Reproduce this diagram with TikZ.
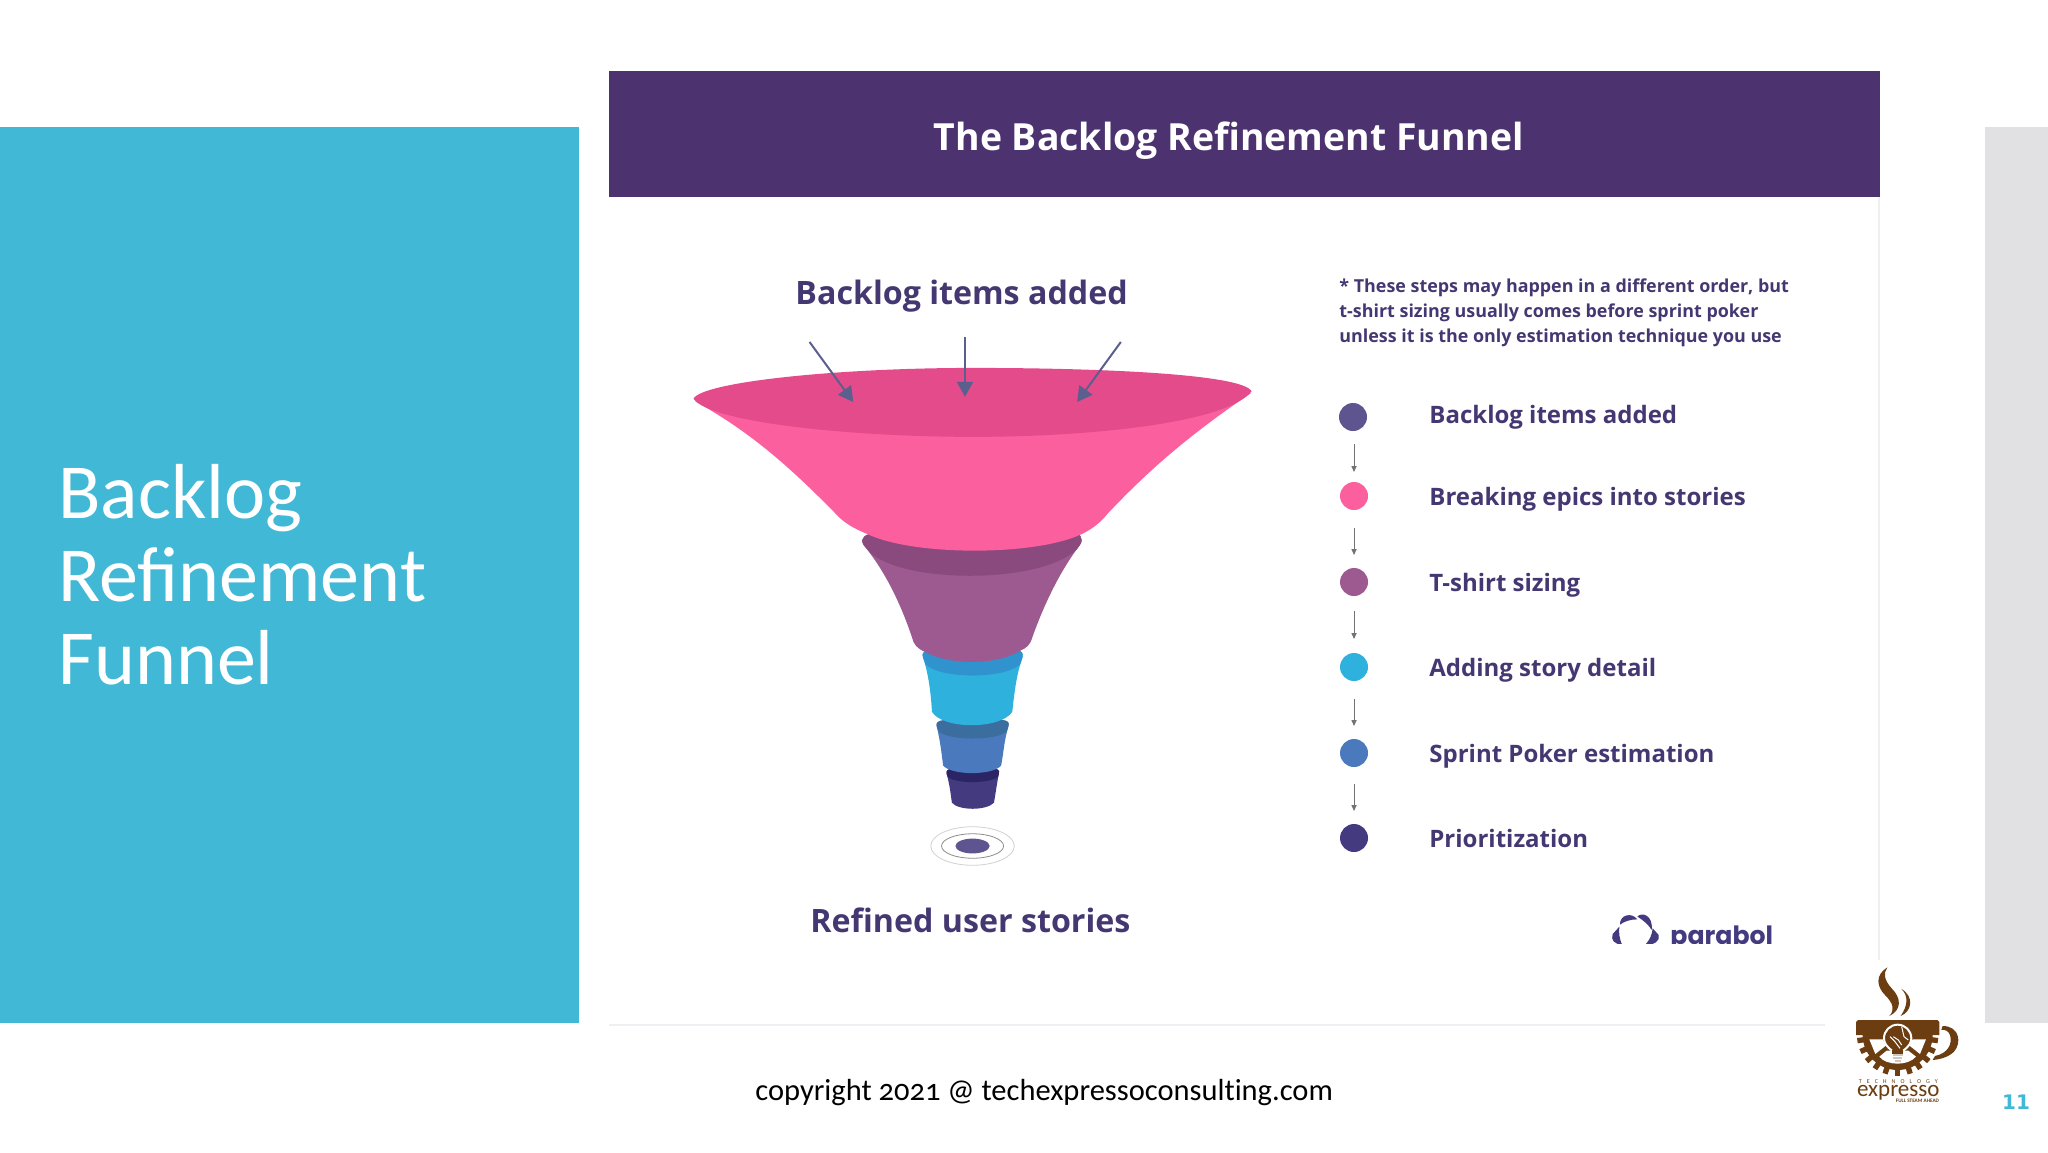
\documentclass[tikz,border=0pt]{standalone}
\usepackage{fontspec}
\usetikzlibrary{arrows.meta}
\newfontfamily\headf{Open Sans}
\newfontfamily\slidef{Carlito}[Numbers=OldStyle]
\newfontfamily\numf{DejaVu Sans}
\newfontfamily\popf{Poppins}
\definecolor{teal1}{HTML}{41B8D5}
\definecolor{hdr}{HTML}{4C326F}
\definecolor{ink}{HTML}{453872}
\definecolor{gray1}{HTML}{E1E1E4}
\definecolor{rule1}{HTML}{EFEEF3}
\definecolor{pinkA}{HTML}{FB5F9E}
\definecolor{pinkB}{HTML}{E44B8B}
\definecolor{purpA}{HTML}{9C5A90}
\definecolor{purpB}{HTML}{8A4A7E}
\definecolor{cyanA}{HTML}{2FB1DE}
\definecolor{cyanB}{HTML}{3193CE}
\definecolor{blueA}{HTML}{4A79BE}
\definecolor{blueB}{HTML}{3B6D9E}
\definecolor{navyA}{HTML}{433A80}
\definecolor{navyB}{HTML}{2B2566}
\definecolor{slateA}{HTML}{5E5590}
\definecolor{arrowc}{HTML}{5B5F8E}
\definecolor{brown1}{HTML}{6B3D10}
\tikzset{
  listdot/.style={circle,inner sep=0pt,minimum size=28*0.5pt},
  listlabel/.style={anchor=base west,inner sep=0pt,text=ink,font=\headf\bfseries\fontsize{12}{14}\selectfont},
  notetext/.style={anchor=base west,inner sep=0pt,text=ink,font=\headf\bfseries\fontsize{8.95}{11}\selectfont},
  heading/.style={anchor=base west,inner sep=0pt,text=ink,font=\headf\bfseries\fontsize{16.1}{19}\selectfont},
  slidetitle/.style={anchor=base west,inner sep=0pt,text=white,font=\slidef\fontsize{39}{43}\selectfont},
  stepflow/.style={draw=black!55,line width=0.45pt,-{Triangle[length=3pt,width=2.6pt]}},
  inflow/.style={draw=arrowc,line width=1pt,-{Triangle[length=7.5pt,width=8pt]}},
}
\begin{document}
\begin{tikzpicture}[x=0.5pt,y=-0.5pt]
\useasboundingbox (0,0) rectangle (2048,1152);
\fill[white] (0,0) rectangle (2048,1152);
\fill[teal1] (0,127) rectangle (579,1023);
\fill[gray1] (1985,127) rectangle (2048,1023);
\fill[hdr] (609,71) rectangle (1880,197);
\draw[rule1,line width=0.7pt] (1879,197) -- (1879,960);
\draw[rule1,line width=0.7pt] (609,1025) -- (1825,1025);

\node[anchor=base,inner sep=0pt,text=white,font=\headf\bfseries\fontsize{18.7}{22}\selectfont] (hdrtext) at (1229,150) {The Backlog Refinement Funnel};
\node[slidetitle] (t1) at (58,518) {Backlog};
\node[slidetitle] (t2) at (58,601) {Refinement};
\node[slidetitle] (t3) at (58,684) {Funnel};
\node[heading] (headtop) at (795,304) {Backlog items added};
\node[heading] (headbot) at (810,932) {Refined user stories};

% funnel, in zoom coordinates
\begin{scope}[shift={(658.5,319)},xscale=0.3975,yscale=0.3706]
  % navy
  \fill[navyA] (725,1228) .. controls (722,1216) and (730,1214) .. (745,1212) .. controls (775,1208) and (810,1208) .. (840,1212) .. controls (852,1214) and (860,1216) .. (856,1228) .. controls (851,1255) and (848,1280) .. (844,1305) .. controls (825,1327) and (755,1327) .. (738,1305) .. controls (735,1280) and (732,1255) .. (725,1228) -- cycle;
  \fill[navyB] (725,1228) .. controls (722,1216) and (730,1214) .. (745,1212) .. controls (775,1208) and (810,1208) .. (840,1212) .. controls (852,1214) and (860,1216) .. (856,1228) -- (854,1236) .. controls (830,1254) and (750,1254) .. (728,1236) -- cycle;
  % blue
  \fill[blueA] (700,1100) .. controls (696,1088) and (705,1084) .. (720,1082) .. controls (770,1076) and (815,1076) .. (865,1082) .. controls (878,1084) and (884,1088) .. (880,1100) .. controls (870,1135) and (868,1170) .. (862,1205) .. controls (840,1232) and (738,1232) .. (716,1205) .. controls (712,1170) and (708,1135) .. (700,1100) -- cycle;
  \fill[blueB] (700,1100) .. controls (696,1088) and (705,1084) .. (720,1082) .. controls (770,1076) and (815,1076) .. (865,1082) .. controls (878,1084) and (884,1088) .. (880,1100) -- (876,1114) .. controls (845,1138) and (735,1138) .. (706,1114) -- cycle;
  % cyan
  \fill[cyanA] (665,912) .. controls (660,895) and (680,890) .. (700,888) -- (880,888) .. controls (905,890) and (920,895) .. (916,912) .. controls (900,960) and (895,1010) .. (890,1060) .. controls (860,1108) and (715,1108) .. (688,1060) .. controls (685,1010) and (680,960) .. (665,912) -- cycle;
  \fill[cyanB] (665,912) .. controls (660,895) and (680,890) .. (700,888) -- (880,888) .. controls (905,890) and (920,895) .. (916,912) -- (910,932) .. controls (870,972) and (710,972) .. (672,932) -- cycle;
  % purple
  \fill[purpA] (516,610) .. controls (505,590) and (520,582) .. (545,575) -- (1035,570) .. controls (1060,578) and (1072,590) .. (1060,610) .. controls (1010,680) and (970,770) .. (940,860) .. controls (935,880) and (925,888) .. (910,895) .. controls (850,935) and (730,935) .. (668,897) .. controls (650,888) and (642,878) .. (638,860) .. controls (610,770) and (570,680) .. (516,610) -- cycle;
  \fill[purpB] (516,610) .. controls (505,590) and (520,582) .. (545,575) -- (1035,570) .. controls (1060,578) and (1072,590) .. (1060,610) -- (1052,622) .. controls (960,715) and (620,715) .. (532,630) -- cycle;
  % pink
  \fill[pinkA] (92,222) .. controls (240,310) and (340,410) .. (450,530) .. controls (465,548) and (490,565) .. (525,580) .. controls (640,640) and (950,640) .. (1065,580) .. controls (1095,565) and (1115,545) .. (1130,525) .. controls (1240,400) and (1340,310) .. (1490,200) -- cycle;
  \fill[pinkB] (88,215) .. controls (110,170) and (450,132) .. (790,132) .. controls (1130,132) and (1470,150) .. (1492,195) .. controls (1430,280) and (1090,318) .. (790,318) .. controls (490,318) and (130,280) .. (88,215) -- cycle;
  % target
  \fill[slateA] (790,1422) ellipse [x radius=43,y radius=20];
  \draw[black!45,line width=0.4pt] (790,1422) ellipse [x radius=78,y radius=33];
  \draw[black!18,line width=0.4pt] (790,1422) ellipse [x radius=105,y radius=52];
  % arrows
  \coordinate (a1s) at (380,62); \coordinate (a1e) at (490,224);
  \coordinate (a2s) at (771,48); \coordinate (a2e) at (771,210);
  \coordinate (a3s) at (1163,62); \coordinate (a3e) at (1053,224);
  \draw[inflow] (a1s) -- (a1e);
  \draw[inflow] (a2s) -- (a2e);
  \draw[inflow] (a3s) -- (a3e);
\end{scope}

% note
\node[notetext] (n1) at (1339,292) {* These steps may happen in a different order, but};
\node[notetext] (n2) at (1339,317) {t-shirt sizing usually comes before sprint poker};
\node[notetext] (n3) at (1339,342) {unless it is the only estimation technique you use};

% list
\node[listdot,fill=slateA] (d1) at (1353,417) {};
\node[listdot,fill=pinkA] (d2) at (1354,496) {};
\node[listdot,fill=purpA] (d3) at (1354,582) {};
\node[listdot,fill=cyanA] (d4) at (1354,667) {};
\node[listdot,fill=blueA] (d5) at (1354,753) {};
\node[listdot,fill=navyA] (d6) at (1354,838) {};
\node[listlabel] (l1) at (1429,423) {Backlog items added};
\node[listlabel] (l2) at (1429,505) {Breaking epics into stories};
\node[listlabel] (l3) at (1429,591) {T-shirt sizing};
\node[listlabel] (l4) at (1429,676) {Adding story detail};
\node[listlabel] (l5) at (1429,762) {Sprint Poker estimation};
\node[listlabel] (l6) at (1429,847) {Prioritization};
\foreach \u/\v/\sy/\ey in {d1/d2/444/472,d2/d3/528/555,d3/d4/611/639,d4/d5/699/726,d5/d6/784/811}{
  \coordinate (\u s) at (1354,\sy);
  \coordinate (\u e) at (1354,\ey);
  \draw[stepflow] (\u s) -- (\u e);
}

% parabol logo, clipped at its lower edge
\begin{scope}[shift={(1600,880)},scale=0.3333]
  \begin{scope}
    \clip (0,0) rectangle (600,190);
    \fill[navyA] (60,134) .. controls (58,105) and (95,95) .. (112,118) .. controls (92,118) and (72,124) .. (60,134) -- cycle;
    \fill[navyA] (112,110) .. controls (125,95) and (160,105) .. (155,150) .. controls (145,134) and (132,122) .. (112,110) -- cycle;
    \fill[navyA] (58,140) -- (38,162) .. controls (32,180) and (42,192) .. (66,194) .. controls (58,175) and (56,160) .. (58,140) -- cycle;
    \fill[navyA] (158,145) -- (176,165) .. controls (182,182) and (162,196) .. (136,194) .. controls (150,178) and (156,165) .. (158,145) -- cycle;
    \node[anchor=base west,inner sep=0pt,text=navyA,font=\popf\bfseries\fontsize{12.6}{15}\selectfont] (parabol) at (210,192) {parabol};
  \end{scope}
  % coffee logo
  \fill[brown1] (862,262) .. controls (825,285) and (830,320) .. (855,345) .. controls (880,370) and (885,390) .. (868,408) .. controls (905,390) and (905,355) .. (875,325) .. controls (852,300) and (850,280) .. (862,262) -- cycle;
  \fill[brown1] (903,326) .. controls (925,345) and (925,375) .. (902,408) .. controls (935,395) and (945,350) .. (903,326) -- cycle;
  \fill[brown1] (774,420) -- (1012,420) -- (1018,426) -- (1018,465) -- (768,465) -- (768,426) -- cycle;
  \fill[brown1] (1028,438) .. controls (1080,438) and (1085,490) .. (1062,515) .. controls (1045,532) and (1020,538) .. (998,540) -- (1005,528) .. controls (1045,520) and (1058,490) .. (1050,465) .. controls (1045,452) and (1035,448) .. (1024,450) -- cycle;
  \fill[brown1] (788,465) -- (998,465) arc[start angle=0,end angle=180,radius=105] -- cycle;
  \foreach \a in {8,24,40,56,72,90,108,124,140,156,172}{
    \fill[brown1] (893,465) ++(\a:98) ++(\a+90:8) -- ++(\a:24) -- ++(\a-90:16) -- ++(\a+180:24) -- cycle;
  }
  \fill[white] (808,478) -- (848,478) -- (860,495) -- (826,522) -- cycle;
  \fill[white] (978,478) -- (938,478) -- (926,495) -- (960,522) -- cycle;
  \fill[white] (838,530) .. controls (860,558) and (925,558) .. (948,530) -- (925,512) -- (860,512) -- cycle;
  \fill[brown1] (893,475) circle [radius=42];
  \draw[white,line width=1pt] (876,512) .. controls (860,500) and (852,488) .. (852,475) arc[start angle=180,end angle=360,radius=41] .. controls (934,488) and (926,500) .. (910,512);
  \fill[brown1] (877,510) rectangle (909,522);
  \fill[white!70!brown1] (878,522) rectangle (908,527);
  \fill[white!70!brown1] (880,531) rectangle (906,536);
  \fill[white!70!brown1] (884,540) rectangle (902,545);
  \draw[white,line width=0.5pt] (870,470) -- (885,485) -- (900,505);
  \draw[white,line width=0.5pt] (905,440) -- (912,470) -- (925,480);
  \draw[white,line width=0.5pt] (880,470) -- (895,480) -- (905,495);
  \node[inner sep=0pt,text=brown1,font=\slidef\fontsize{3}{4}\selectfont,anchor=base] (tech) at (895,611) {T\hspace{2.5pt}E\hspace{2.5pt}C\hspace{2.5pt}H\hspace{2.5pt}N\hspace{2.5pt}O\hspace{2.5pt}L\hspace{2.5pt}O\hspace{2.5pt}G\hspace{2.5pt}Y};
  \node[inner sep=0pt,text=brown1,font=\slidef\fontsize{11.5}{12}\selectfont,anchor=base] (expr) at (895,649) {expresso};
  \node[inner sep=0pt,text=brown1,font=\slidef\bfseries\fontsize{2.6}{3}\selectfont,anchor=base east] (fsa) at (1018,667) {FULL STEAM AHEAD};
\end{scope}

\node[anchor=base west,inner sep=0pt,text=black,font=\slidef\fontsize{15.25}{18}\selectfont] (copy) at (755,1100) {copyright 2021 @ techexpressoconsult\kern0pt ing.com};
\node[anchor=center,inner sep=0pt,text=teal1,font=\numf\bfseries\fontsize{10}{12}\selectfont] (pg) at (2016,1102) {11};
\end{tikzpicture}
\end{document}
